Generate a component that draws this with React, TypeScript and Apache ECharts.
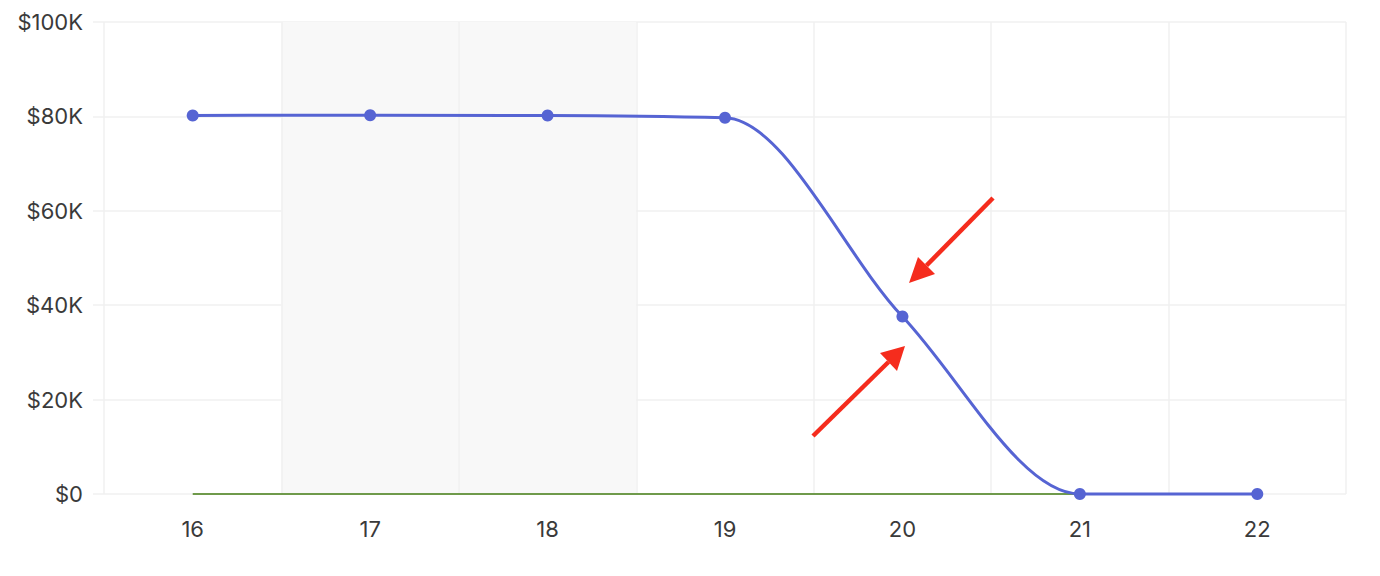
import React, { useEffect, useRef } from "react";
import * as echarts from "echarts";

const categories = ["16", "17", "18", "19", "20", "21", "22"];
const blueValues = [80200, 80250, 80200, 79700, 37600, 0, 0];
const greenValues = [0, 0, 0, 0, 0, 0, 0];
const yTicks = [0, 20000, 40000, 60000, 80000, 100000];
const shadedBands = [false, true, true, false, false, false, false];

const FONT = "Inter, 'Open Sans', sans-serif";
const GRID_COLOR = "#f1f1f1";
const RED = "#f52c1d";
const BLUE = "#5664d3";

function arrow(x1: number, y1: number, tx: number, ty: number, c1: [number, number], c2: [number, number]) {
  const mx = (c1[0] + c2[0]) / 2;
  const my = (c1[1] + c2[1]) / 2;
  return [
    { type: "line", shape: { x1, y1, x2: mx, y2: my }, style: { stroke: RED, lineWidth: 4.5 }, z: 100 },
    { type: "polygon", shape: { points: [[tx, ty], c1, c2] }, style: { fill: RED }, z: 100 },
  ];
}

const sign = (v: number) => (v < 0 ? -1 : 1);

// monotone-x tangents (Fritsch–Carlson style, as in d3.curveMonotoneX), in pixel space
function tangents(pts: number[][]): number[] {
  const n = pts.length;
  const t: number[] = new Array(n).fill(0);
  for (let i = 1; i < n - 1; i++) {
    const h0 = pts[i][0] - pts[i - 1][0];
    const h1 = pts[i + 1][0] - pts[i][0];
    const s0 = (pts[i][1] - pts[i - 1][1]) / h0;
    const s1 = (pts[i + 1][1] - pts[i][1]) / h1;
    const p = (s0 * h1 + s1 * h0) / (h0 + h1);
    t[i] = (sign(s0) + sign(s1)) * Math.min(Math.abs(s0), Math.abs(s1), 0.5 * Math.abs(p)) || 0;
  }
  if (n > 1) {
    const h = pts[1][0] - pts[0][0];
    t[0] = (3 * (pts[1][1] - pts[0][1]) / h - t[1]) / 2;
    const hl = pts[n - 1][0] - pts[n - 2][0];
    t[n - 1] = (3 * (pts[n - 1][1] - pts[n - 2][1]) / hl - t[n - 2]) / 2;
  }
  return t;
}

export default function App() {
  const ref = useRef<HTMLDivElement>(null);
  useEffect(() => {
    if (!ref.current) return;
    const chart = echarts.init(ref.current, undefined, { renderer: "svg" });
    chart.setOption({
      animation: false,
      grid: { left: 104, right: 34, top: 22, bottom: 82, containLabel: false },
      xAxis: {
        type: "category",
        data: categories,
        boundaryGap: true,
        axisLine: { show: false },
        axisTick: { show: false },
        axisLabel: { color: "#3a3a3a", fontSize: 22, fontFamily: FONT, margin: 24 },
        splitLine: { show: true, lineStyle: { color: GRID_COLOR, width: 1.5 } },
        splitArea: {
          show: true,
          areaStyle: {
            color: shadedBands.map((s) => (s ? "#f8f8f8" : "rgba(255,255,255,0)")),
          },
        },
      },
      yAxis: {
        type: "value",
        min: yTicks[0],
        max: yTicks[yTicks.length - 1],
        interval: 20000,
        axisLine: { show: false },
        axisTick: { show: true, length: 11, lineStyle: { color: GRID_COLOR, width: 1.5 } },
        axisLabel: {
          color: "#3a3a3a",
          fontSize: 22,
          fontFamily: FONT,
          margin: 21,
          formatter: (v: number) => (v === 0 ? "$0" : "$" + v / 1000 + "K"),
        },
        splitLine: { show: true, lineStyle: { color: GRID_COLOR, width: 1.5 } },
      },
      series: [
        {
          type: "line",
          data: greenValues,
          symbol: "none",
          lineStyle: { color: "#6f9a4b", width: 2 },
          z: 3,
        },
        {
          type: "custom",
          data: blueValues.map((v, i) => [i, v]),
          z: 4,
          silent: true,
          renderItem: (params: any, api: any) => {
            const i = params.dataIndex;
            if (i >= blueValues.length - 1) return null;
            const pts = blueValues.map((v, k) => api.coord([k, v]));
            const t = tangents(pts);
            const [x0, y0] = pts[i];
            const [x1, y1] = pts[i + 1];
            const h = (x1 - x0) / 3;
            return {
              type: "bezierCurve",
              shape: {
                x1: x0,
                y1: y0,
                x2: x1,
                y2: y1,
                cpx1: x0 + h,
                cpy1: y0 + t[i] * h,
                cpx2: x1 - h,
                cpy2: y1 - t[i + 1] * h,
              },
              style: { stroke: BLUE, lineWidth: 3, fill: "none" },
            };
          },
        },
        {
          type: "scatter",
          data: blueValues,
          symbol: "circle",
          symbolSize: 12,
          itemStyle: { color: BLUE, opacity: 1 },
          z: 5,
        },
      ],
      graphic: [
        ...arrow(993, 198, 909, 283, [918, 257], [935, 274]),
        ...arrow(813, 436, 905, 346, [880, 353], [897, 371]),
      ],
    });
    return () => chart.dispose();
  }, []);
  return (
    <div
      ref={ref}
      style={{ position: "fixed", left: 0, top: 0, width: 1380, height: 576, background: "#fff" }}
    />
  );
}
